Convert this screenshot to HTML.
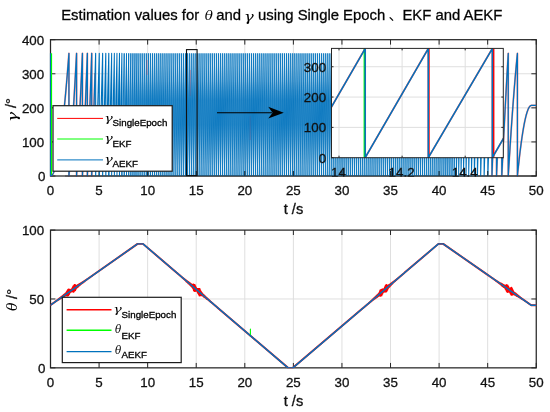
<!DOCTYPE html>
<html><head><meta charset="utf-8"><title>Estimation values</title>
<style>html,body{margin:0;padding:0;background:#fff}svg{display:block}</style></head>
<body>
<svg width="550" height="412" viewBox="0 0 550 412">
<rect width="550" height="412" fill="#fff"/>
<defs>
<clipPath id="ct"><rect x="49.5" y="39.7" width="487.25" height="136.8"/></clipPath>
<clipPath id="cb"><rect x="50.5" y="230.1" width="485.75" height="138.25"/></clipPath>
<clipPath id="ci"><rect x="331.5" y="48.4" width="171.8" height="109.3"/></clipPath>
<linearGradient id="mb" gradientUnits="userSpaceOnUse" x1="0" y1="54" x2="0" y2="176"><stop offset="0.098" stop-color="#0072bd" stop-opacity="0"/><stop offset="0.221" stop-color="#0072bd" stop-opacity="0.2"/><stop offset="0.311" stop-color="#0072bd" stop-opacity="0.48"/><stop offset="0.377" stop-color="#0072bd" stop-opacity="0.65"/><stop offset="0.582" stop-color="#0072bd" stop-opacity="0.65"/><stop offset="0.705" stop-color="#0072bd" stop-opacity="0.43"/><stop offset="0.787" stop-color="#0072bd" stop-opacity="0.25"/><stop offset="0.91" stop-color="#0072bd" stop-opacity="0"/></linearGradient>
<linearGradient id="mh" gradientUnits="userSpaceOnUse" x1="95.19" y1="0" x2="487.68" y2="0"><stop offset="0" stop-color="#fff" stop-opacity="0"/><stop offset="0.11" stop-color="#fff" stop-opacity="1"/><stop offset="0.89" stop-color="#fff" stop-opacity="1"/><stop offset="1" stop-color="#fff" stop-opacity="0"/></linearGradient>
<mask id="mm" maskUnits="userSpaceOnUse" x="0" y="0" width="550" height="412"><rect x="95.19" y="50" width="392.49" height="130" fill="url(#mh)"/></mask>
</defs>
<g font-size="14.87" fill="#000" font-family="Liberation Sans, sans-serif" stroke="#111" stroke-width="0.3">
<text x="61.2" y="20.1">Estimation values for</text>
<text x="216.3" y="20.1">and</text>
<text x="258.0" y="20.1">using Single Epoch</text>
<text x="402.4" y="20.1">EKF and AEKF</text>
</g>
<text x="388.4" y="20.1" font-size="14.67" fill="#000" font-family="Liberation Sans, 'Noto Sans CJK SC', sans-serif">、</text>
<text x="204.66" y="20.4" font-size="13.6" fill="#000" font-family="DejaVu Serif, Liberation Serif, serif" font-style="italic" >θ</text>
<text transform="translate(244.06,21.05) scale(1.24,1)" font-size="13.2" fill="#000" font-family="DejaVu Serif, Liberation Serif, serif" font-style="italic" >γ</text>
<path d="M99.08 39.7V176M147.65 39.7V176M196.22 39.7V176M244.8 39.7V176M293.38 39.7V176M341.95 39.7V176M390.52 39.7V176M439.1 39.7V176M487.68 39.7V176M50.5 141.93H108.79M502.25 141.93H536.25M50.5 107.85H108.79M502.25 107.85H536.25M50.5 73.78H108.79M502.25 73.78H536.25" stroke="#dfdfdf" stroke-width="1" fill="none"/>
<rect x="50.5" y="39.7" width="485.75" height="136.3" fill="none" stroke="#262626" stroke-width="1.25"/><path d="M50.5 176v-4.9M50.5 39.7v4.9M99.08 176v-4.9M99.08 39.7v4.9M147.65 176v-4.9M147.65 39.7v4.9M196.22 176v-4.9M196.22 39.7v4.9M244.8 176v-4.9M244.8 39.7v4.9M293.38 176v-4.9M293.38 39.7v4.9M341.95 176v-4.9M341.95 39.7v4.9M390.52 176v-4.9M390.52 39.7v4.9M439.1 176v-4.9M439.1 39.7v4.9M487.68 176v-4.9M487.68 39.7v4.9M536.25 176v-4.9M536.25 39.7v4.9M50.5 176h4.9M536.25 176h-4.9M50.5 141.93h4.9M536.25 141.93h-4.9M50.5 107.85h4.9M536.25 107.85h-4.9M50.5 73.78h4.9M536.25 73.78h-4.9M50.5 39.7h4.9M536.25 39.7h-4.9" stroke="#262626" stroke-width="1" fill="none"/>
<g clip-path="url(#ct)" fill="none" stroke-linejoin="round">
<path d="M51.5 53.33V176" stroke="#00ff00" stroke-width="1.2"/>
<polyline points="50.5,176 50.79,175.97 51.09,175.88 51.38,175.72 51.67,175.51 51.96,175.23 52.26,174.89 52.55,174.49 52.84,174.02 53.13,173.5 53.43,172.91 53.72,172.26 54.01,171.55 54.3,170.78 54.6,169.94 54.89,169.05 55.18,168.09 55.47,167.07 55.77,165.99 56.06,164.84 56.35,163.64 56.64,162.37 56.94,161.04 57.23,159.65 57.52,158.2 57.81,156.68 58.11,155.11 58.4,153.47 58.69,151.77 58.98,150.01 59.28,148.18 59.57,146.3 59.86,144.35 60.16,142.34 60.45,140.27 60.74,138.14 61.03,135.94 61.33,133.69 61.62,131.37 61.91,128.99 62.2,126.55 62.5,124.05 62.79,121.48 63.08,118.85 63.37,116.16 63.67,113.41 63.96,110.6 64.25,107.73 64.54,104.79 64.84,101.79 65.13,98.73 65.42,95.61 65.71,92.43 66.01,89.18 66.3,85.88 66.59,82.51 66.88,79.08 67.18,75.58 67.47,72.03 67.76,68.41 68.06,64.73 68.35,60.99 68.64,57.19 68.93,53.33 68.93,176 69.23,172.06 69.52,168.06 69.81,163.99 70.11,159.87 70.4,155.68 70.69,151.43 70.99,147.11 71.28,142.74 71.58,138.3 71.87,133.8 72.16,129.24 72.46,124.61 72.75,119.93 73.04,115.18 73.34,110.37 73.63,105.49 73.93,100.56 74.22,95.56 74.51,90.5 74.81,85.37 75.1,80.19 75.39,74.94 75.69,69.63 75.98,64.26 76.27,58.83 76.57,53.33 76.57,176 76.86,170.46 77.15,164.85 77.45,159.18 77.74,153.45 78.03,147.66 78.33,141.8 78.62,135.88 78.91,129.91 79.2,123.87 79.5,117.76 79.79,111.6 80.08,105.37 80.38,99.08 80.67,92.73 80.96,86.32 81.26,79.85 81.55,73.31 81.84,66.71 82.13,60.05 82.43,53.33 82.43,176 82.74,168.85 83.04,161.63 83.35,154.34 83.66,146.98 83.97,139.56 84.28,132.06 84.59,124.5 84.9,116.87 85.2,109.17 85.51,101.4 85.82,93.56 86.13,85.65 86.44,77.67 86.75,69.63 87.06,61.51 87.37,53.33 87.37,176 87.68,167.69 87.99,159.31 88.3,150.86 88.61,142.35 88.92,133.76 89.23,125.1 89.54,116.37 89.85,107.58 90.16,98.71 90.47,89.77 90.78,80.77 91.1,71.69 91.41,62.55 91.72,53.33 91.72,176 92.02,166.96 92.32,157.86 92.63,148.68 92.93,139.45 93.23,130.14 93.53,120.77 93.84,111.34 94.14,101.83 94.44,92.26 94.74,82.63 95.05,72.93" stroke="#ff0000" stroke-width="1.8" opacity="0.45"/>
<polyline points="490.5,95.75 490.8,87.14 491.09,78.6 491.38,70.11 491.67,61.69 491.97,53.33 491.97,176 492.27,167.35 492.58,158.77 492.88,150.26 493.19,141.81 493.49,133.43 493.8,125.12 494.1,116.87 494.41,108.7 494.71,100.58 495.02,92.54 495.32,84.56 495.63,76.66 495.93,68.81 496.24,61.04 496.54,53.33 496.54,176 496.83,168.66 497.13,161.38 497.42,154.16 497.71,147 498,139.91 498.3,132.88 498.59,125.91 498.88,119 499.18,112.16 499.47,105.37 499.76,98.65 500.06,91.99 500.35,85.39 500.64,78.85 500.93,72.38 501.23,65.97 501.52,59.62 501.81,53.33 501.81,176 502.11,169.77 502.4,163.61 502.69,157.51 502.99,151.46 503.28,145.49 503.57,139.57 503.86,133.71 504.16,127.92 504.45,122.19 504.74,116.52 505.04,110.91 505.33,105.37 505.62,99.89 505.92,94.47 506.21,89.11 506.5,83.81 506.79,78.58 507.09,73.4 507.38,68.29 507.67,63.24 507.97,58.26 508.26,53.33 508.26,176 508.55,171.1 508.85,166.26 509.15,161.48 509.44,156.77 509.74,152.12 510.03,147.53 510.33,143.01 510.62,138.55 510.92,134.15 511.21,129.82 511.51,125.54 511.8,121.33 512.1,117.19 512.39,113.11 512.69,109.09 512.98,105.13 513.28,101.23 513.58,97.4 513.87,93.63 514.17,89.93 514.46,86.29 514.76,82.71 515.05,79.19 515.35,75.74 515.64,72.35 515.94,69.02 516.23,65.76 516.53,62.56 516.82,59.42 517.12,56.34 517.42,53.33 517.42,176 517.71,173.06 518,170.18 518.3,167.37 518.59,164.62 518.89,161.93 519.18,159.3 519.48,156.74 519.77,154.24 520.06,151.8 520.36,149.42 520.65,147.11 520.95,144.86 521.24,142.67 521.54,140.55 521.83,138.48 522.12,136.48 522.42,134.54 522.71,132.67 523.01,130.85 523.3,129.1 523.6,127.41 523.89,125.79 524.18,124.23 524.48,122.73 524.77,121.29 525.07,119.91 525.36,118.6 525.66,117.35 525.95,116.16 526.24,115.03 526.54,113.97 526.83,112.97 527.13,112.03 527.42,111.16 527.72,110.35 528.01,109.6 528.3,108.91 528.6,108.28 528.89,107.72 529.19,107.22 529.48,106.78 529.78,106.41 530.07,106.1 530.36,105.85 530.66,105.66 530.95,105.53 531.25,105.47 531.54,105.46 531.84,105.46 532.13,105.46 532.42,105.46 532.72,105.46 533.01,105.46 533.31,105.46 533.6,105.46 533.9,105.46 534.19,105.46 534.48,105.46 534.78,105.46 535.07,105.46 535.37,105.46 535.66,105.46 535.96,105.46 536.25,105.46" stroke="#ff0000" stroke-width="1.8" opacity="0.45"/>
<polyline points="50.5,176 50.79,175.97 51.09,175.88 51.38,175.72 51.67,175.51 51.96,175.23 52.26,174.89 52.55,174.49 52.84,174.02 53.13,173.5 53.43,172.91 53.72,172.26 54.01,171.55 54.3,170.78 54.6,169.94 54.89,169.05 55.18,168.09 55.47,167.07 55.77,165.99 56.06,164.84 56.35,163.64 56.64,162.37 56.94,161.04 57.23,159.65 57.52,158.2 57.81,156.68 58.11,155.11 58.4,153.47 58.69,151.77 58.98,150.01 59.28,148.18 59.57,146.3 59.86,144.35 60.16,142.34 60.45,140.27 60.74,138.14 61.03,135.94 61.33,133.69 61.62,131.37 61.91,128.99 62.2,126.55 62.5,124.05 62.79,121.48 63.08,118.85 63.37,116.16 63.67,113.41 63.96,110.6 64.25,107.73 64.54,104.79 64.84,101.79 65.13,98.73 65.42,95.61 65.71,92.43 66.01,89.18 66.3,85.88 66.59,82.51 66.88,79.08 67.18,75.58 67.47,72.03 67.76,68.41 68.06,64.73 68.35,60.99 68.64,57.19 68.93,53.33 68.93,176 69.23,172.06 69.52,168.06 69.81,163.99 70.11,159.87 70.4,155.68 70.69,151.43 70.99,147.11 71.28,142.74 71.58,138.3 71.87,133.8 72.16,129.24 72.46,124.61 72.75,119.93 73.04,115.18 73.34,110.37 73.63,105.49 73.93,100.56 74.22,95.56 74.51,90.5 74.81,85.37 75.1,80.19 75.39,74.94 75.69,69.63 75.98,64.26 76.27,58.83 76.57,53.33 76.57,176 76.86,170.46 77.15,164.85 77.45,159.18 77.74,153.45 78.03,147.66 78.33,141.8 78.62,135.88 78.91,129.91 79.2,123.87 79.5,117.76 79.79,111.6 80.08,105.37 80.38,99.08 80.67,92.73 80.96,86.32 81.26,79.85 81.55,73.31 81.84,66.71 82.13,60.05 82.43,53.33 82.43,176 82.74,168.85 83.04,161.63 83.35,154.34 83.66,146.98 83.97,139.56 84.28,132.06 84.59,124.5 84.9,116.87 85.2,109.17 85.51,101.4 85.82,93.56 86.13,85.65 86.44,77.67 86.75,69.63 87.06,61.51 87.37,53.33 87.37,176 87.68,167.69 87.99,159.31 88.3,150.86 88.61,142.35 88.92,133.76 89.23,125.1 89.54,116.37 89.85,107.58 90.16,98.71 90.47,89.77 90.78,80.77 91.1,71.69 91.41,62.55 91.72,53.33 91.72,176 92.02,166.96 92.32,157.86 92.63,148.68 92.93,139.45 93.23,130.14 93.53,120.77 93.84,111.34 94.14,101.83 94.44,92.26 94.74,82.63 95.05,72.93" stroke="#0072bd" stroke-width="1.25"/>
<polyline points="95.05,72.93 95.35,63.16 95.65,53.33 95.65,176 95.95,166.14 96.25,156.21 96.56,146.22 96.86,136.16 97.16,126.04 97.46,115.85 97.76,105.59 98.06,95.27 98.36,84.88 98.67,74.43 98.97,63.91 99.27,53.33 99.27,176 99.58,165.19 99.88,154.31 100.19,143.36 100.49,132.34 100.8,121.26 101.11,110.1 101.41,98.88 101.72,87.6 102.02,76.24 102.33,64.82 102.64,53.33 102.64,176 102.95,164.06 103.27,152.04 103.58,139.96 103.9,127.8 104.22,115.57 104.53,103.26 104.85,90.89 105.17,78.44 105.48,65.92 105.8,53.33 105.8,176 106.1,164.02 106.4,151.98 106.7,139.88 107,127.71 107.29,115.47 107.59,103.17 107.89,90.81 108.19,78.38 108.49,65.89 108.79,53.33 108.79,176" stroke="#0072bd" stroke-width="1.12"/>
<polyline points="108.79,176 109.11,162.66 109.42,149.25 109.74,135.76 110.05,122.2 110.37,108.57 110.69,94.87 111,81.1 111.32,67.25 111.64,53.33 111.64,176 111.94,162.63 112.24,149.2 112.54,135.7 112.84,122.14 113.15,108.51 113.45,94.81 113.75,81.05 114.05,67.22 114.35,53.33 114.35,176 114.68,160.93 115.01,145.79 115.33,130.57 115.66,115.28 115.98,99.91 116.31,84.46 116.63,68.93 116.96,53.33 116.96,176 117.27,160.91 117.59,145.76 117.9,130.53 118.22,115.23 118.53,99.86 118.84,84.42 119.16,68.91 119.47,53.33 119.47,176 121.89,53.33 121.89,176" stroke="#0072bd" stroke-width="1.02"/>
<polyline points="121.89,176 124.23,53.33 124.23,176 126.5,53.33 126.5,176 128.7,53.33 128.7,176 130.85,53.33 130.85,176 132.93,53.33 132.93,176 134.97,53.33 134.97,176 136.96,53.33 136.96,176" stroke="#0072bd" stroke-width="0.9"/>
<polyline points="136.96,176 138.91,53.33 138.91,176 140.85,53.33 140.85,176 142.79,53.33 142.79,176 144.73,53.33 144.73,176 146.67,53.33 146.67,176 148.62,53.33 148.62,176 150.56,53.33 150.56,176 152.5,53.33 152.5,176 154.44,53.33 154.44,176 156.38,53.33 156.38,176 158.33,53.33 158.33,176 160.27,53.33 160.27,176 162.21,53.33 162.21,176 164.15,53.33 164.15,176 166.1,53.33 166.1,176 168.04,53.33 168.04,176 169.98,53.33 169.98,176 171.92,53.33 171.92,176 173.86,53.33 173.86,176 175.81,53.33 175.81,176 177.75,53.33 177.75,176 179.69,53.33 179.69,176 181.63,53.33 181.63,176 183.57,53.33 183.57,176 185.52,53.33 185.52,176 187.46,53.33 187.46,176 189.4,53.33 189.4,176 191.34,53.33 191.34,176 193.28,53.33 193.28,176 195.23,53.33 195.23,176 197.17,53.33 197.17,176 199.11,53.33 199.11,176 201.05,53.33 201.05,176 202.99,53.33 202.99,176 204.94,53.33 204.94,176 206.88,53.33 206.88,176 208.82,53.33 208.82,176 210.76,53.33 210.76,176 212.7,53.33 212.7,176 214.65,53.33 214.65,176 216.59,53.33 216.59,176 218.53,53.33 218.53,176 220.47,53.33 220.47,176 222.42,53.33 222.42,176 224.36,53.33 224.36,176 226.3,53.33 226.3,176 228.24,53.33 228.24,176 230.18,53.33 230.18,176 232.13,53.33 232.13,176 234.07,53.33 234.07,176 236.01,53.33 236.01,176 237.95,53.33 237.95,176 239.89,53.33 239.89,176 241.84,53.33 241.84,176 243.78,53.33 243.78,176 245.72,53.33 245.72,176 247.66,53.33 247.66,176 249.6,53.33 249.6,176 251.55,53.33 251.55,176 253.49,53.33 253.49,176 255.43,53.33 255.43,176 257.37,53.33 257.37,176 259.31,53.33 259.31,176 261.26,53.33 261.26,176 263.2,53.33 263.2,176 265.14,53.33 265.14,176 267.08,53.33 267.08,176 269.03,53.33 269.03,176 270.97,53.33 270.97,176 272.91,53.33 272.91,176 274.85,53.33 274.85,176 276.79,53.33 276.79,176 278.74,53.33 278.74,176 280.68,53.33 280.68,176 282.62,53.33 282.62,176 284.56,53.33 284.56,176 286.5,53.33 286.5,176 288.45,53.33 288.45,176 290.39,53.33 290.39,176 292.33,53.33 292.33,176 294.27,53.33 294.27,176 296.21,53.33 296.21,176 298.16,53.33 298.16,176 300.1,53.33 300.1,176 302.04,53.33 302.04,176 303.98,53.33 303.98,176 305.92,53.33 305.92,176 307.87,53.33 307.87,176 309.81,53.33 309.81,176 311.75,53.33 311.75,176 313.69,53.33 313.69,176 315.63,53.33 315.63,176 317.58,53.33 317.58,176 319.52,53.33 319.52,176 321.46,53.33 321.46,176 323.4,53.33 323.4,176 325.35,53.33 325.35,176 327.29,53.33 327.29,176 329.23,53.33 329.23,176 331.17,53.33 331.17,176 333.11,53.33 333.11,176 335.06,53.33 335.06,176 337,53.33 337,176 338.94,53.33 338.94,176 340.88,53.33 340.88,176 342.82,53.33 342.82,176 344.77,53.33 344.77,176 346.71,53.33 346.71,176 348.65,53.33 348.65,176 350.59,53.33 350.59,176 352.53,53.33 352.53,176 354.48,53.33 354.48,176 356.42,53.33 356.42,176 358.36,53.33 358.36,176 360.3,53.33 360.3,176 362.24,53.33 362.24,176 364.19,53.33 364.19,176 366.13,53.33 366.13,176 368.07,53.33 368.07,176 370.01,53.33 370.01,176 371.96,53.33 371.96,176 373.9,53.33 373.9,176 375.84,53.33 375.84,176 377.78,53.33 377.78,176 379.72,53.33 379.72,176 381.67,53.33 381.67,176 383.61,53.33 383.61,176 385.55,53.33 385.55,176 387.49,53.33 387.49,176 389.43,53.33 389.43,176 391.38,53.33 391.38,176 393.32,53.33 393.32,176 395.26,53.33 395.26,176 397.2,53.33 397.2,176 399.14,53.33 399.14,176 401.09,53.33 401.09,176 403.03,53.33 403.03,176 404.97,53.33 404.97,176 406.91,53.33 406.91,176 408.85,53.33 408.85,176 410.8,53.33 410.8,176 412.74,53.33 412.74,176 414.68,53.33 414.68,176 416.62,53.33 416.62,176 418.56,53.33 418.56,176 420.51,53.33 420.51,176 422.45,53.33 422.45,176 424.39,53.33 424.39,176 426.33,53.33 426.33,176 428.28,53.33 428.28,176 430.22,53.33 430.22,176 432.16,53.33 432.16,176 434.1,53.33 434.1,176 436.04,53.33 436.04,176 437.99,53.33 437.99,176 439.93,53.33 439.93,176 441.87,53.33 441.87,176 443.81,53.33 443.81,176" stroke="#0072bd" stroke-width="0.8"/>
<polyline points="443.81,176 445.77,53.33 445.77,176 447.78,53.33 447.78,176 449.84,53.33 449.84,176 451.95,53.33 451.95,176 454.12,53.33 454.12,176 456.35,53.33 456.35,176" stroke="#0072bd" stroke-width="0.9"/>
<polyline points="456.35,176 458.65,53.33 458.65,176 461.02,53.33 461.02,176 461.33,160.43 461.64,144.92 461.94,129.49 462.25,114.12 462.56,98.82 462.86,83.59 463.17,68.43 463.48,53.33 463.48,176 463.8,160.41 464.12,144.89 464.43,129.45 464.75,114.08 465.07,98.78 465.39,83.56 465.71,68.41 466.03,53.33 466.03,176 466.32,162.12 466.62,148.3 466.91,134.55 467.21,120.85 467.5,107.22 467.8,93.66 468.09,80.15 468.39,66.71 468.68,53.33 468.68,176 468.99,162.1 469.3,148.26 469.6,134.49 469.91,120.8 470.22,107.17 470.53,93.6 470.83,80.11 471.14,66.69 471.45,53.33 471.45,176 471.77,162.07 472.1,148.21 472.42,134.43 472.74,120.73 473.06,107.1" stroke="#0072bd" stroke-width="1.02"/>
<polyline points="473.06,107.1 473.39,93.54 473.71,80.06 474.03,66.66 474.35,53.33 474.35,176 474.66,163.43 474.97,150.92 475.27,138.49 475.58,126.12 475.88,113.82 476.19,101.59 476.5,89.42 476.8,77.32 477.11,65.29 477.42,53.33 477.42,176 477.71,164.53 478.01,153.13 478.3,141.79 478.6,130.51 478.89,119.3 479.19,108.15 479.48,97.06 479.78,86.03 480.07,75.07 480.37,64.17 480.66,53.33 480.66,176 480.98,164.49 481.29,153.05 481.61,141.68 481.92,130.39 482.24,119.16 482.55,108.01 482.87,96.93 483.18,85.92 483.5,74.99 483.81,64.12 484.13,53.33 484.13,176 484.44,165.39 484.75,154.85 485.06,144.38 485.37,133.99 485.69,123.66 486,113.4 486.31,103.21 486.62,93.1 486.93,83.05 487.25,73.07 487.56,63.17 487.87,53.33 487.87,176 488.16,166.84 488.45,157.73 488.75,148.69 489.04,139.72 489.33,130.8 489.63,121.94 489.92,113.15 490.21,104.42 490.5,95.75" stroke="#0072bd" stroke-width="1.12"/>
<polyline points="490.5,95.75 490.8,87.14 491.09,78.6 491.38,70.11 491.67,61.69 491.97,53.33 491.97,176 492.27,167.35 492.58,158.77 492.88,150.26 493.19,141.81 493.49,133.43 493.8,125.12 494.1,116.87 494.41,108.7 494.71,100.58 495.02,92.54 495.32,84.56 495.63,76.66 495.93,68.81 496.24,61.04 496.54,53.33 496.54,176 496.83,168.66 497.13,161.38 497.42,154.16 497.71,147 498,139.91 498.3,132.88 498.59,125.91 498.88,119 499.18,112.16 499.47,105.37 499.76,98.65 500.06,91.99 500.35,85.39 500.64,78.85 500.93,72.38 501.23,65.97 501.52,59.62 501.81,53.33 501.81,176 502.11,169.77 502.4,163.61 502.69,157.51 502.99,151.46 503.28,145.49 503.57,139.57 503.86,133.71 504.16,127.92 504.45,122.19 504.74,116.52 505.04,110.91 505.33,105.37 505.62,99.89 505.92,94.47 506.21,89.11 506.5,83.81 506.79,78.58 507.09,73.4 507.38,68.29 507.67,63.24 507.97,58.26 508.26,53.33 508.26,176 508.55,171.1 508.85,166.26 509.15,161.48 509.44,156.77 509.74,152.12 510.03,147.53 510.33,143.01 510.62,138.55 510.92,134.15 511.21,129.82 511.51,125.54 511.8,121.33 512.1,117.19 512.39,113.11 512.69,109.09 512.98,105.13 513.28,101.23 513.58,97.4 513.87,93.63 514.17,89.93 514.46,86.29 514.76,82.71 515.05,79.19 515.35,75.74 515.64,72.35 515.94,69.02 516.23,65.76 516.53,62.56 516.82,59.42 517.12,56.34 517.42,53.33 517.42,176 517.71,173.06 518,170.18 518.3,167.37 518.59,164.62 518.89,161.93 519.18,159.3 519.48,156.74 519.77,154.24 520.06,151.8 520.36,149.42 520.65,147.11 520.95,144.86 521.24,142.67 521.54,140.55 521.83,138.48 522.12,136.48 522.42,134.54 522.71,132.67 523.01,130.85 523.3,129.1 523.6,127.41 523.89,125.79 524.18,124.23 524.48,122.73 524.77,121.29 525.07,119.91 525.36,118.6 525.66,117.35 525.95,116.16 526.24,115.03 526.54,113.97 526.83,112.97 527.13,112.03 527.42,111.16 527.72,110.35 528.01,109.6 528.3,108.91 528.6,108.28 528.89,107.72 529.19,107.22 529.48,106.78 529.78,106.41 530.07,106.1 530.36,105.85 530.66,105.66 530.95,105.53 531.25,105.47 531.54,105.46 531.84,105.46 532.13,105.46 532.42,105.46 532.72,105.46 533.01,105.46 533.31,105.46 533.6,105.46 533.9,105.46 534.19,105.46 534.48,105.46 534.78,105.46 535.07,105.46 535.37,105.46 535.66,105.46 535.96,105.46 536.25,105.46" stroke="#0072bd" stroke-width="1.25"/>
<path d="M250.2 116V140M190.3 70V96M333.5 120V136M147 60V75M131 112V150" stroke="#e8384a" stroke-width="0.6" opacity="0.7"/>
<rect x="95.19" y="54" width="392.49" height="122" fill="url(#mb)" mask="url(#mm)"/>
<path d="M50.4 53.33V176" stroke="#0072bd" stroke-width="1.1"/>
</g>
<path d="M65.07 176H536.25M147.65 176v-4.9M196.22 176v-4.9M244.8 176v-4.9M293.38 176v-4.9M341.95 176v-4.9M390.52 176v-4.9M439.1 176v-4.9M487.68 176v-4.9" stroke="#262626" stroke-width="1.2" fill="none" opacity="0.65"/>
<g font-size="13.33" fill="#111" font-family="Liberation Sans, Arial, Helvetica, sans-serif" stroke="#111" stroke-width="0.3"><text x="50.5" y="195.3" text-anchor="middle">0</text><text x="99.08" y="195.3" text-anchor="middle">5</text><text x="147.65" y="195.3" text-anchor="middle">10</text><text x="196.22" y="195.3" text-anchor="middle">15</text><text x="244.8" y="195.3" text-anchor="middle">20</text><text x="293.38" y="195.3" text-anchor="middle">25</text><text x="341.95" y="195.3" text-anchor="middle">30</text><text x="390.52" y="195.3" text-anchor="middle">35</text><text x="439.1" y="195.3" text-anchor="middle">40</text><text x="487.68" y="195.3" text-anchor="middle">45</text><text x="536.25" y="195.3" text-anchor="middle">50</text><text x="45.4" y="181.3" text-anchor="end">0</text><text x="44.2" y="146.73" text-anchor="end">100</text><text x="44.2" y="112.65" text-anchor="end">200</text><text x="44.2" y="78.58" text-anchor="end">300</text><text x="44.2" y="44.5" text-anchor="end">400</text></g>
<text x="293.5" y="214.4" font-size="14.67" fill="#111" text-anchor="middle" font-family="Liberation Sans, Arial, Helvetica, sans-serif" stroke="#111" stroke-width="0.3">t /s</text>
<g transform="translate(17.05,120.4) rotate(-90)"><text transform="translate(-1.71,0) scale(1.24,1)" font-size="13.75" fill="#000" font-family="DejaVu Serif, Liberation Serif, serif" font-style="italic" >γ</text><text x="12.4" y="-0.8" font-size="14.67" fill="#111" font-family="Liberation Sans, Arial, Helvetica, sans-serif" stroke="#111" stroke-width="0.3">/°</text></g>
<rect x="186.5" y="49.6" width="10.6" height="126" fill="none" stroke="#111" stroke-width="1.1"/>
<path d="M217 112.7H272" stroke="#000" stroke-width="1.1" fill="none"/>
<path d="M283.8 112.7L268.2 106.8L272.6 112.7L268.2 118.6Z" fill="#000"/>
<rect x="331.5" y="48.4" width="171.8" height="109.3" fill="#fff"/>
<path d="M339 48.4V157.7M402.1 48.4V157.7M465.2 48.4V157.7M331.5 127.38H503.3M331.5 97.06H503.3M331.5 66.74H503.3" stroke="#dfdfdf" stroke-width="1" fill="none"/>
<g clip-path="url(#ci)" fill="none" stroke-linejoin="round">
<polyline points="302.09,157.7 365.19,48.55 365.19,157.7 428.29,48.55 428.29,157.7 492.33,48.55 492.33,157.7 555.43,48.55" stroke="#ff0000" stroke-width="1.7" opacity="0.6"/>
<path d="M364.29 48.55V157.7" stroke="#00ff00" stroke-width="1.4"/>
<path d="M493.43 48.55V157.7" stroke="#ff0000" stroke-width="2"/>
<path d="M429.09 48.55V157.7" stroke="#ff0000" stroke-width="1.2"/>
<polyline points="302.09,157.7 365.19,48.55 365.19,157.7 428.29,48.55 428.29,157.7 492.33,48.55 492.33,157.7 555.43,48.55" stroke="#0072bd" stroke-width="1.5"/>
</g>
<rect x="331.5" y="48.4" width="171.8" height="109.3" fill="none" stroke="#262626" stroke-width="1"/>
<path d="M339 157.7v-2M339 48.4v2M402.1 157.7v-2M402.1 48.4v2M465.2 157.7v-2M465.2 48.4v2M331.5 157.7h2M503.3 157.7h-2M331.5 127.38h2M503.3 127.38h-2M331.5 97.06h2M503.3 97.06h-2M331.5 66.74h2M503.3 66.74h-2" stroke="#262626" stroke-width="1" fill="none"/>
<g font-size="13.33" fill="#111" font-family="Liberation Sans, Arial, Helvetica, sans-serif" stroke="#111" stroke-width="0.3" clip-path="url(#ct)"><text x="338.5" y="176.7" text-anchor="middle">14</text><text x="401.6" y="176.7" text-anchor="middle">14.2</text><text x="464.7" y="176.7" text-anchor="middle">14.4</text><text x="326.1" y="162.5" text-anchor="end">0</text><text x="326.1" y="132.18" text-anchor="end">100</text><text x="326.1" y="101.86" text-anchor="end">200</text><text x="326.1" y="71.54" text-anchor="end">300</text></g>
<rect x="53" y="105.7" width="119.2" height="65.5" fill="#fff" stroke="#1c1c1c" stroke-width="1.2"/><path d="M57.2 118.4H103" stroke="#ff0000" stroke-width="1"/><text transform="translate(104.27,121.5) scale(1.24,1)" font-size="11.5" fill="#000" font-family="DejaVu Serif, Liberation Serif, serif" font-style="italic" >γ</text><text x="112.6" y="126.4" font-size="9.75" fill="#000" font-family="Liberation Sans, Arial, Helvetica, sans-serif" stroke="#000" stroke-width="0.3">SingleEpoch</text><path d="M57.2 139H103" stroke="#00ff00" stroke-width="1"/><text transform="translate(104.27,142.3) scale(1.24,1)" font-size="11.5" fill="#000" font-family="DejaVu Serif, Liberation Serif, serif" font-style="italic" >γ</text><text x="112.6" y="147.4" font-size="9.75" fill="#000" font-family="Liberation Sans, Arial, Helvetica, sans-serif" stroke="#000" stroke-width="0.3">EKF</text><path d="M57.2 159.9H103" stroke="#0072bd" stroke-width="1"/><text transform="translate(104.27,162.5) scale(1.24,1)" font-size="11.5" fill="#000" font-family="DejaVu Serif, Liberation Serif, serif" font-style="italic" >γ</text><text x="112.6" y="167.1" font-size="9.75" fill="#000" font-family="Liberation Sans, Arial, Helvetica, sans-serif" stroke="#000" stroke-width="0.3">AEKF</text>
<path d="M99.08 230.1V367.85M147.65 230.1V367.85M196.22 230.1V367.85M244.8 230.1V367.85M293.38 230.1V367.85M341.95 230.1V367.85M390.52 230.1V367.85M439.1 230.1V367.85M487.68 230.1V367.85M50.5 298.98H536.25" stroke="#dfdfdf" stroke-width="1" fill="none"/>
<rect x="50.5" y="230.1" width="485.75" height="137.75" fill="none" stroke="#262626" stroke-width="1.25"/><path d="M50.5 367.85v-4.9M50.5 230.1v4.9M99.08 367.85v-4.9M99.08 230.1v4.9M147.65 367.85v-4.9M147.65 230.1v4.9M196.22 367.85v-4.9M196.22 230.1v4.9M244.8 367.85v-4.9M244.8 230.1v4.9M293.38 367.85v-4.9M293.38 230.1v4.9M341.95 367.85v-4.9M341.95 230.1v4.9M390.52 367.85v-4.9M390.52 230.1v4.9M439.1 367.85v-4.9M439.1 230.1v4.9M487.68 367.85v-4.9M487.68 230.1v4.9M536.25 367.85v-4.9M536.25 230.1v4.9M50.5 367.85h4.9M536.25 367.85h-4.9M50.5 298.98h4.9M536.25 298.98h-4.9M50.5 230.1h4.9M536.25 230.1h-4.9" stroke="#262626" stroke-width="1" fill="none"/>
<g clip-path="url(#cb)" fill="none" stroke-linejoin="round" stroke-linecap="round">
<polyline points="50.5,305.04 50.6,304.97 50.81,304.82 51.02,304.67 51.24,304.52 51.45,304.37 51.66,304.22 51.88,304.07 52.09,303.92 52.31,303.77 52.52,303.62 52.73,303.47 52.95,303.32 53.16,303.17 53.37,303.02 53.59,302.87 53.8,302.72 54.02,302.57 54.23,302.42 54.44,302.27 54.66,302.12 54.87,301.96 55.08,301.81 55.3,301.66 55.51,301.51 55.73,301.39 55.74,301.31 55.94,301.26 55.95,301.15 56.15,301.12 56.17,301 56.37,300.98 56.38,300.85 56.58,300.83 56.6,300.69 56.79,300.7 56.81,300.52 57.01,300.52 57.02,300.39 57.22,300.38 57.24,300.2 57.44,300.25 57.45,300.06 57.65,300.1 57.66,299.9 57.86,299.96 57.88,299.75 58.08,299.84 58.09,299.58 58.29,299.72 58.31,299.41 58.5,299.58 58.52,299.23 58.72,299.45 58.73,299.08 58.93,299.25 58.95,298.9 59.15,299.18 59.16,298.73 59.36,299.01 59.37,298.58 59.57,298.84 59.59,298.4 59.79,298.75 59.8,298.3 60,298.55 60.02,298.06 60.21,298.54 60.23,297.99 60.43,298.38 60.44,297.78 60.64,298.16 60.66,297.63 60.86,298.12 60.87,297.37 61.07,297.87 61.08,297.24 61.28,297.74 61.3,297.05 61.5,297.66 61.51,296.84 61.71,297.66 61.73,296.74 61.92,297.55 61.94,296.61 62.14,297.22 62.15,296.37 62.35,297.07 62.37,296.29 62.57,297.04 62.58,296.02 62.78,296.84 62.79,295.99 62.99,296.91 63.01,295.75 63.21,296.82 63.22,295.4 63.42,296.52 63.44,295.36 63.63,296.44 63.65,295.12 63.85,296.34 63.86,294.97 64.06,296.23 64.08,294.67 64.27,296.06 64.29,294.67 64.49,296.01 64.5,294.57 64.7,295.73 64.72,294.12 64.92,295.69 64.93,294.11 65.13,295.36 65.15,293.99 65.34,295.45 65.36,293.98 65.56,295.34 65.57,293.56 65.77,294.97 65.79,293.39 65.98,295.01 66,293.2 66.2,294.83 66.21,293.02 66.41,295.04 66.43,293.03 66.63,294.71 66.64,292.27 66.84,295.44 66.86,292.19 67.05,295.14 67.07,291.51 67.27,295.09 67.28,291.35 67.48,295.12 67.5,291.01 67.69,295.45 67.71,290.79 67.91,295.15 67.92,289.95 68.12,294.61 68.14,290 68.34,295.35 68.35,290.19 68.55,294.49 68.57,289.5 68.76,294.24 68.78,290.22 68.98,294.15 68.99,289.68 69.19,293.47 69.21,290.13 69.4,293.32 69.42,289.76 69.62,293.02 69.63,289.89 69.83,292.47 69.85,290.33 70.05,292.37 70.06,290.12 70.26,292.01 70.27,290.38 70.47,291.7 70.49,290.12 70.69,291.57 70.7,289.87 70.9,291.67 70.92,290 71.11,291.27 71.13,289.61 71.33,291.27 71.34,289.45 71.54,291.02 71.56,289.56 71.76,290.86 71.77,289.11 71.97,290.72 71.98,289.14 72.18,290.65 72.2,288.93 72.4,290.71 72.41,288.28 72.61,290.62 72.63,288.46 72.82,291.32 72.84,287.4 73.04,291.53 73.05,287.36 73.25,291.65 73.27,286.45 73.47,290.92 73.48,286.24 73.68,291.7 73.69,286 73.89,291.27 73.91,286.21 74.11,290.95 74.12,286.09 74.32,290.42 74.34,285.46 74.53,290.51 74.55,285.1 74.75,289.93 74.76,284.99 74.96,290.39 74.98,285.05 75.18,290.2 75.19,285.2 75.39,289.46 75.4,286.16 75.6,289.17 75.62,286.08 75.82,288.44 75.83,285.83 76.03,288.19 76.05,286.07 76.24,288.02 76.26,286.01 76.46,287.59 76.47,286.03 76.67,287.65 76.69,285.8 76.88,287.44 76.9,285.72 77.1,287.03 77.11,285.51 77.31,287.11 77.33,285.53 77.53,286.92 77.54,285.11 77.74,286.75 77.76,285.02 77.95,286.29 77.97,284.97 78.17,286.42 78.18,285.05 78.38,286.04 78.4,284.84 78.59,285.95 78.61,284.66 78.81,285.76 78.82,284.43 79.02,285.44 79.04,284.52 79.24,285.31 79.25,284.37 79.45,285.12 79.47,284.01 79.66,285.16 79.68,284.12 79.88,284.89 79.89,283.93 80.09,284.67 80.11,283.8 80.3,284.58 80.32,283.62 80.52,284.34 80.53,283.58 80.73,284.16 80.75,283.46 80.95,284.03 80.96,283.21 81.16,283.83 81.18,283.2 81.37,283.63 81.39,283.02 81.59,283.53 81.6,282.82 81.8,283.32 81.82,282.69 82.01,283.19 82.03,282.62 82.23,282.98 82.24,282.48 82.44,282.86 82.46,282.35 82.66,282.69 82.67,282.21 82.87,282.47 82.88,282.07 83.08,282.35 83.1,281.98 83.3,282.16 83.31,281.81 83.51,282.04 83.53,281.63 83.72,281.83 83.74,281.5 83.94,281.7 83.95,281.41 84.15,281.52 84.17,281.28 84.37,281.38 84.38,281.11 84.58,281.22 84.59,280.96 84.79,281.05 84.81,280.82 85.01,280.88 85.02,280.71 85.22,280.72 85.24,280.57 85.43,280.55 85.45,280.4 85.65,280.39 85.66,280.28 85.86,280.24 85.88,280.11 86.08,280.09 86.09,279.99 86.29,279.95 86.3,279.84 86.5,279.79 86.52,279.68 86.73,279.58 86.95,279.43 87.16,279.28 87.37,279.13 87.59,278.98 87.8,278.83 88.01,278.68 88.23,278.53 88.44,278.38 88.66,278.23 88.87,278.08 89.08,277.93 89.3,277.78 89.51,277.63 89.72,277.48 89.94,277.33 90.15,277.18 90.37,277.03 90.58,276.88 90.79,276.73 91.01,276.57 91.22,276.42 91.43,276.27 91.65,276.12 91.86,275.97 92.08,275.82 92.29,275.67 92.5,275.52 137.55,243.88 142.99,243.88 175.84,271.96 176.06,272.14 176.27,272.32 176.48,272.51 176.7,272.69 176.91,272.87 177.12,273.05 177.34,273.24 177.55,273.42 177.77,273.6 177.98,273.78 178.19,273.97 178.41,274.15 178.62,274.33 178.83,274.52 179.05,274.7 179.26,274.88 179.48,275.06 179.69,275.25 179.9,275.43 180.12,275.61 180.33,275.79 180.54,275.98 180.76,276.16 180.84,276.23 180.97,276.34 181.06,276.41 181.19,276.52 181.27,276.6 181.4,276.71 181.48,276.78 181.61,276.89 181.7,276.96 181.83,277.04 181.91,277.18 182.04,277.21 182.12,277.38 182.25,277.4 182.34,277.57 182.47,277.57 182.55,277.75 182.68,277.74 182.76,277.95 182.9,277.91 182.98,278.13 183.11,278.09 183.19,278.33 183.32,278.25 183.41,278.5 183.54,278.43 183.62,278.72 183.75,278.62 183.83,278.88 183.96,278.81 184.05,279.1 184.18,278.95 184.26,279.3 184.39,279.11 184.47,279.45 184.6,279.33 184.69,279.65 184.82,279.5 184.9,279.88 185.03,279.62 185.12,280.09 185.25,279.84 185.33,280.29 185.46,280 185.54,280.44 185.67,280.13 185.76,280.6 185.89,280.36 185.97,280.89 186.1,280.51 186.18,281.03 186.31,280.64 186.4,281.27 186.53,280.88 186.61,281.43 186.74,280.98 186.83,281.65 186.96,281.18 187.04,281.87 187.17,281.22 187.25,282.04 187.38,281.45 187.47,282.19 187.6,281.66 187.68,282.5 187.81,281.86 187.89,282.76 188.02,281.85 188.11,282.79 188.24,282 188.32,283.06 188.45,282.19 188.54,283.36 188.67,282.47 188.75,283.55 188.88,282.53 188.96,283.79 189.09,282.8 189.18,283.99 189.31,282.76 189.39,284.18 189.52,283.04 189.6,284.21 189.73,283.21 189.82,284.49 189.95,283.29 190.03,284.81 190.16,283.5 190.25,284.85 190.38,283.63 190.46,285.21 190.59,283.95 190.67,285.51 190.8,283.94 190.89,285.43 191.02,283.99 191.1,285.64 191.23,284.39 191.31,286.07 191.44,284.44 191.53,286.21 191.66,284.58 191.74,286.37 191.87,284.89 191.96,286.45 192.09,285.16 192.17,286.88 192.3,285.01 192.38,287.1 192.51,284.95 192.6,287.41 192.73,285.18 192.81,287.85 192.94,284.64 193.02,287.98 193.15,284.86 193.24,288.56 193.37,284.51 193.45,289.07 193.58,284.96 193.67,289.51 193.8,284.72 193.88,290.32 194.01,285.02 194.09,290.71 194.22,285.48 194.31,290.15 194.44,285.69 194.52,290.09 194.65,285.04 194.73,290.98 194.86,286.12 194.95,290.33 195.08,286.19 195.16,290.95 195.29,286.18 195.37,290.87 195.51,286.86 195.59,290.25 195.72,287.47 195.8,290.25 195.93,287.81 196.02,290.45 196.15,288.41 196.23,290.23 196.36,288.49 196.44,290.24 196.57,288.68 196.66,290.77 196.79,288.82 196.87,290.73 197,289.16 197.08,291.02 197.21,289.29 197.3,291.41 197.43,289.28 197.51,291.49 197.64,289.09 197.73,292.02 197.86,289.17 197.94,292.66 198.07,289.61 198.15,293.17 198.28,288.93 198.37,293.34 198.5,289.02 198.58,293.7 198.71,289.41 198.79,294.15 198.92,289.68 199.01,294.42 199.14,288.97 199.22,294.58 199.35,289.24 199.44,295.45 199.57,289.05 199.65,294.46 199.78,289.49 199.86,295.13 199.99,290.75 200.08,294.81 200.21,290.91 200.29,294.49 200.42,291.01 200.5,295.25 200.63,291.63 200.72,295.07 200.85,291.79 200.93,294.47 201.06,292.16 201.15,294.7 201.28,292.58 201.36,294.74 201.49,292.9 201.57,294.75 201.7,293.08 201.79,295.16 201.92,293.26 202,295.12 202.13,293.51 202.21,295.3 202.34,293.97 202.43,295.29 202.56,294.18 202.64,295.51 202.77,294.35 202.86,295.79 202.99,294.36 203.07,295.96 203.2,294.66 203.28,296.16 203.41,294.91 203.5,296.25 203.63,294.97 203.71,296.39 203.84,295.36 203.92,296.7 204.05,295.4 204.14,296.7 204.27,295.71 204.35,296.9 204.48,295.86 204.57,296.98 204.7,296.22 204.78,297.14 204.91,296.23 204.99,297.28 205.12,296.51 205.21,297.46 205.34,296.78 205.42,297.61 205.55,296.94 205.63,297.77 205.76,297.22 205.85,297.93 205.98,297.39 206.06,298.16 206.19,297.61 206.28,298.24 206.41,297.75 206.49,298.47 206.62,297.91 206.7,298.58 206.83,298.16 206.92,298.8 207.05,298.41 207.13,299.04 207.26,298.59 207.34,299.09 207.47,298.75 207.56,299.26 207.69,298.93 207.77,299.45 207.9,299.19 207.99,299.59 208.12,299.32 208.2,299.78 208.33,299.52 208.41,299.97 208.54,299.7 208.63,300.13 208.76,299.96 208.84,300.29 208.97,300.11 209.05,300.49 209.18,300.34 209.27,300.63 209.4,300.51 209.48,300.85 209.61,300.71 209.69,300.97 209.83,300.93 209.91,301.15 210.04,301.11 210.12,301.33 210.25,301.3 210.34,301.53 210.47,301.46 210.55,301.69 210.68,301.65 210.76,301.87 210.89,301.85 210.98,302.06 211.11,302.03 211.19,302.21 211.32,302.24 211.4,302.41 211.53,302.41 211.62,302.57 211.75,302.61 211.83,302.72 211.96,302.83 212.05,302.9 212.18,303.01 212.26,303.08 212.39,303.2 212.47,303.27 212.6,303.38 212.69,303.45 212.9,303.63 213.11,303.82 213.33,304 213.54,304.18 213.76,304.36 213.97,304.55 214.18,304.73 214.4,304.91 214.61,305.09 214.82,305.28 215.04,305.46 215.25,305.64 215.47,305.83 215.68,306.01 215.89,306.19 216.11,306.37 216.32,306.56 216.53,306.74 216.75,306.92 216.96,307.1 217.18,307.29 217.39,307.47 217.6,307.65 288.03,367.85 292.89,367.85 362.74,308.34 362.95,308.16 363.17,307.98 363.38,307.8 363.6,307.62 363.81,307.43 364.02,307.25 364.24,307.07 364.45,306.89 364.66,306.71 364.88,306.52 365.09,306.34 365.31,306.16 365.52,305.98 365.73,305.8 365.95,305.61 366.16,305.43 366.37,305.25 366.59,305.07 366.8,304.89 367.02,304.7 367.23,304.52 367.44,304.34 367.64,304.17 367.66,304.16 367.86,303.99 367.87,303.97 368.07,303.81 368.08,303.79 368.28,303.62 368.3,303.61 368.5,303.44 368.51,303.43 368.71,303.26 368.73,303.28 368.92,303.04 368.94,303.12 369.14,302.85 369.15,302.94 369.35,302.67 369.37,302.75 369.56,302.48 369.58,302.59 369.78,302.28 369.79,302.41 369.99,302.08 370.01,302.24 370.21,301.91 370.22,302.06 370.42,301.72 370.44,301.86 370.63,301.51 370.65,301.71 370.85,301.31 370.86,301.52 371.06,301.14 371.08,301.36 371.27,300.93 371.29,301.16 371.49,300.76 371.5,301.02 371.7,300.59 371.72,300.85 371.92,300.34 371.93,300.68 372.13,300.15 372.15,300.52 372.34,300 372.36,300.33 372.56,299.72 372.57,300.16 372.77,299.58 372.79,299.97 372.98,299.41 373,299.81 373.2,299.12 373.21,299.71 373.41,298.92 373.43,299.59 373.63,298.76 373.64,299.42 373.84,298.57 373.86,299.18 374.05,298.29 374.07,299.1 374.27,298.08 374.28,298.87 374.48,297.91 374.5,298.7 374.69,297.66 374.71,298.64 374.91,297.6 374.92,298.49 375.12,297.42 375.14,298.15 375.34,297.09 375.35,298.03 375.55,296.93 375.56,297.96 375.76,296.85 375.78,297.83 375.98,296.58 375.99,297.59 376.19,296.36 376.21,297.52 376.4,296.03 376.42,297.23 376.62,296.02 376.63,297.07 376.83,295.72 376.85,296.84 377.05,295.6 377.06,296.91 377.26,295.21 377.27,296.83 377.47,294.9 377.49,296.64 377.69,294.91 377.7,296.22 377.9,294.73 377.92,296.17 378.11,294.45 378.13,296.04 378.33,294.31 378.34,296.01 378.54,294.14 378.56,295.69 378.76,293.69 378.77,295.67 378.97,293.74 378.98,295.26 379.18,293.32 379.2,295 379.4,293.25 379.41,295.28 379.61,292.6 379.63,295.1 379.82,292.54 379.84,295.17 380.04,291.49 380.05,295.45 380.25,290.8 380.27,295.86 380.47,290.34 380.48,295.04 380.68,290.94 380.69,294.97 380.89,290.32 380.91,295.31 381.11,290.59 381.12,295.46 381.32,290.36 381.34,294.96 381.53,290.03 381.55,295.35 381.75,289.75 381.76,294.33 381.96,290.18 381.98,294.18 382.17,289.57 382.19,294.03 382.39,289.39 382.4,293.69 382.6,290.05 382.62,292.69 382.82,289.75 382.83,292.72 383.03,289.98 383.05,292.28 383.24,289.97 383.26,291.65 383.46,289.97 383.47,291.34 383.67,289.6 383.69,291.52 383.88,289.29 383.9,291.17 384.1,289.18 384.11,291.24 384.31,288.67 384.33,291.15 384.53,288.48 384.54,291.17 384.74,288.24 384.76,290.98 384.95,287.36 384.97,291.79 385.17,287.05 385.18,291.28 385.38,286.88 385.4,291.36 385.59,285.96 385.61,291.35 385.81,285.43 385.82,290.88 386.02,286.05 386.04,291.25 386.24,285.74 386.25,291.49 386.45,285.09 386.47,291.32 386.66,285.33 386.68,289.85 386.88,285.4 386.89,290.11 387.09,285.54 387.11,289.42 387.3,285.41 387.32,289.58 387.52,285.99 387.53,288.89 387.73,285.84 387.75,288.33 387.95,285.61 387.96,288.14 388.16,285.75 388.17,287.42 388.37,285.46 388.39,287.22 388.59,285.53 388.6,287.3 388.8,285.39 388.82,286.86 389.01,284.97 389.03,286.93 389.23,285.07 389.24,286.51 389.44,284.92 389.46,286.21 389.66,284.77 389.67,286.32 389.87,284.67 389.88,285.84 390.08,284.46 390.1,285.59 390.3,284.19 390.31,285.61 390.51,283.93 390.53,285.36 390.72,283.79 390.74,284.96 390.94,283.79 390.95,285.04 391.15,283.69 391.17,284.63 391.37,283.42 391.38,284.43 391.58,283.25 391.59,284.17 391.79,283.17 391.81,284.19 392.01,283.03 392.02,283.96 392.22,282.86 392.24,283.77 392.43,282.59 392.45,283.49 392.65,282.54 392.66,283.16 392.86,282.26 392.88,282.99 393.08,282.2 393.09,282.9 393.29,281.92 393.3,282.57 393.5,281.75 393.52,282.44 393.72,281.68 393.73,282.18 393.93,281.52 393.95,282.1 394.14,281.36 394.16,281.79 394.36,281.21 394.37,281.59 394.57,281.02 394.59,281.48 394.79,280.88 394.8,281.21 395,280.63 395.01,281.09 395.21,280.46 395.23,280.82 395.43,280.35 395.44,280.69 395.64,280.17 395.66,280.47 395.85,280.01 395.87,280.23 396.07,279.84 396.08,280.08 396.28,279.64 396.3,279.88 396.49,279.49 396.51,279.68 396.71,279.31 396.72,279.49 396.92,279.12 396.94,279.29 397.14,278.96 397.15,279.13 397.35,278.78 397.37,278.91 397.56,278.6 397.58,278.74 397.78,278.45 397.79,278.54 397.99,278.27 398.01,278.34 398.2,278.07 398.22,278.17 398.42,277.9 398.43,277.97 398.63,277.77 398.65,277.76 398.85,277.59 398.86,277.57 399.06,277.41 399.08,277.39 399.27,277.22 399.29,277.21 399.49,277.04 399.5,277.03 399.7,276.86 399.91,276.68 400.13,276.49 400.34,276.31 400.56,276.13 400.77,275.95 400.98,275.77 401.2,275.58 401.41,275.4 401.62,275.22 401.84,275.04 402.05,274.86 402.27,274.67 402.48,274.49 402.69,274.31 402.91,274.13 403.12,273.95 403.33,273.76 403.55,273.58 403.76,273.4 403.98,273.22 404.19,273.04 404.4,272.85 438.42,243.88 443.18,243.88 488.74,275.61 488.96,275.76 489.17,275.9 489.38,276.05 489.6,276.2 489.81,276.35 490.02,276.5 490.24,276.65 490.45,276.8 490.67,276.95 490.88,277.1 491.09,277.24 491.31,277.39 491.52,277.54 491.73,277.69 491.95,277.84 492.16,277.99 492.38,278.14 492.59,278.29 492.8,278.44 493.02,278.58 493.04,278.6 493.23,278.73 493.26,278.75 493.44,278.88 493.47,278.9 493.66,279.03 493.68,279.05 493.87,279.18 493.9,279.2 494.08,279.33 494.11,279.35 494.3,279.48 494.32,279.49 494.51,279.63 494.54,279.64 494.73,279.81 494.75,279.75 494.94,279.98 494.97,279.9 495.15,280.13 495.18,280.03 495.37,280.29 495.39,280.17 495.58,280.43 495.61,280.32 495.79,280.57 495.82,280.46 496.01,280.74 496.03,280.61 496.22,280.91 496.25,280.76 496.44,281.04 496.46,280.88 496.65,281.22 496.67,281.05 496.86,281.35 496.89,281.18 497.08,281.5 497.1,281.29 497.29,281.67 497.32,281.46 497.5,281.84 497.53,281.58 497.72,282.01 497.74,281.71 497.93,282.19 497.96,281.86 498.15,282.3 498.17,281.95 498.36,282.52 498.38,282.17 498.57,282.66 498.6,282.23 498.79,282.89 498.81,282.44 499,282.94 499.03,282.53 499.21,283.15 499.24,282.6 499.43,283.38 499.45,282.81 499.64,283.49 499.67,282.9 499.86,283.73 499.88,283.09 500.07,283.82 500.09,283.24 500.28,284.03 500.31,283.38 500.5,284.26 500.52,283.42 500.71,284.36 500.74,283.64 500.92,284.46 500.95,283.68 501.14,284.77 501.16,283.79 501.35,284.82 501.38,283.81 501.57,285.08 501.59,284.04 501.78,285.14 501.8,284.23 501.99,285.5 502.02,284.4 502.21,285.57 502.23,284.39 502.42,285.69 502.45,284.46 502.63,286.04 502.66,284.56 502.85,286.16 502.87,284.89 503.06,286.11 503.09,284.94 503.28,286.36 503.3,285.15 503.49,286.74 503.51,285.27 503.7,286.9 503.73,285.13 503.92,286.8 503.94,285.26 504.13,287.08 504.16,285.66 504.34,287.16 504.37,285.86 504.56,287.45 504.58,285.85 504.77,287.77 504.8,285.79 504.99,287.6 505.01,286.11 505.2,287.97 505.22,286.27 505.41,288.26 505.44,286.16 505.63,288.96 505.65,286.02 505.84,288.91 505.87,286.02 506.05,289.61 506.08,285.58 506.27,289.79 506.29,285.31 506.48,290.1 506.51,285.24 506.7,290.94 506.72,285.86 506.91,291.43 506.93,285.6 507.12,291.34 507.15,285.41 507.34,291.61 507.36,285.8 507.55,290.87 507.58,285.56 507.76,291.97 507.79,286.27 507.98,291.54 508,286.89 508.19,291.78 508.22,286.81 508.4,290.96 508.43,287.12 508.62,291.5 508.64,287.98 508.83,291.32 508.86,288.28 509.05,290.69 509.07,288.56 509.26,290.71 509.29,288.93 509.47,291.01 509.5,289.3 509.69,291.37 509.71,288.82 509.9,291.75 509.93,288.88 510.11,292.49 510.14,288.83 510.33,292.6 510.35,288.57 510.54,293.39 510.57,288.88 510.76,292.91 510.78,288.13 510.97,293.82 510.99,288.69 511.18,294.59 511.21,287.9 511.4,294.32 511.42,287.83 511.61,294.89 511.64,288.33 511.82,294.19 511.85,289.6 512.04,294.73 512.06,288.9 512.25,294.26 512.28,289.59 512.47,294.43 512.49,290.23 512.68,294.43 512.7,290.31 512.89,294.01 512.92,291.12 513.11,294.02 513.13,291.34 513.32,294 513.35,291.81 513.53,293.74 513.56,292.14 513.75,293.85 513.77,292.14 513.96,293.85 513.99,292.53 514.18,294.14 514.2,292.63 514.39,294.28 514.41,292.81 514.6,294.25 514.63,292.83 514.82,294.7 514.84,292.88 515.03,294.67 515.06,293.23 515.24,294.63 515.27,293.44 515.46,294.85 515.48,293.38 515.67,294.91 515.7,293.56 515.89,295.15 515.91,293.9 516.1,295.21 516.12,293.91 516.31,295.31 516.34,294.21 516.53,295.53 516.55,294.49 516.74,295.58 516.77,294.45 516.95,295.85 516.98,294.69 517.17,296 517.19,295.03 517.38,296.08 517.41,295.04 517.6,296.09 517.62,295.28 517.81,296.38 517.83,295.48 518.02,296.46 518.05,295.68 518.24,296.56 518.26,295.83 518.45,296.66 518.48,295.98 518.66,296.85 518.69,296.09 518.88,296.91 518.9,296.27 519.09,297.03 519.12,296.42 519.31,297.14 519.33,296.63 519.52,297.31 519.54,296.82 519.73,297.38 519.76,297.01 519.95,297.58 519.97,297.17 520.16,297.72 520.19,297.3 520.37,297.87 520.4,297.43 520.59,297.98 520.61,297.64 520.8,298.06 520.83,297.79 521.01,298.25 521.04,297.92 521.23,298.35 521.25,298.14 521.44,298.54 521.47,298.26 521.66,298.65 521.68,298.42 521.87,298.77 521.9,298.59 522.08,298.93 522.11,298.74 522.3,299.05 522.32,298.92 522.51,299.21 522.54,299.05 522.72,299.33 522.75,299.24 522.94,299.48 522.96,299.37 523.15,299.63 523.18,299.53 523.37,299.79 523.39,299.68 523.58,299.91 523.6,299.83 523.79,300.05 523.82,300 524.01,300.17 524.03,300.19 524.22,300.32 524.25,300.33 524.43,300.47 524.46,300.48 524.65,300.61 524.67,300.63 524.86,300.76 524.89,300.78 525.08,300.91 525.1,300.93 525.29,301.06 525.31,301.08 525.5,301.21 525.53,301.23 525.74,301.38 525.96,301.53 526.17,301.67 526.38,301.82 526.6,301.97 526.81,302.12 527.02,302.27 527.24,302.42 527.45,302.57 527.67,302.72 527.88,302.86 528.09,303.01 528.31,303.16 528.52,303.31 528.73,303.46 528.95,303.61 529.16,303.76 529.38,303.91 529.59,304.06 529.8,304.2 531.39,305.31 536.25,305.31" stroke="#ff0000" stroke-width="1.95"/>
<path d="M250.4 329V336" stroke="#00ff00" stroke-width="1.1"/>
<polyline points="50.5,305.04 137.55,243.88 142.99,243.88 288.03,367.85 292.89,367.85 438.42,243.88 443.18,243.88 531.39,305.31 536.25,305.31" stroke="#0072bd" stroke-width="1.45"/>
</g>
<g font-size="13.33" fill="#111" font-family="Liberation Sans, Arial, Helvetica, sans-serif" stroke="#111" stroke-width="0.3"><text x="50.5" y="386.75" text-anchor="middle">0</text><text x="99.08" y="386.75" text-anchor="middle">5</text><text x="147.65" y="386.75" text-anchor="middle">10</text><text x="196.22" y="386.75" text-anchor="middle">15</text><text x="244.8" y="386.75" text-anchor="middle">20</text><text x="293.38" y="386.75" text-anchor="middle">25</text><text x="341.95" y="386.75" text-anchor="middle">30</text><text x="390.52" y="386.75" text-anchor="middle">35</text><text x="439.1" y="386.75" text-anchor="middle">40</text><text x="487.68" y="386.75" text-anchor="middle">45</text><text x="536.25" y="386.75" text-anchor="middle">50</text><text x="45.4" y="373.15" text-anchor="end">0</text><text x="44.2" y="303.78" text-anchor="end">50</text><text x="44.2" y="234.9" text-anchor="end">100</text></g>
<text x="293.5" y="406.0" font-size="14.67" fill="#111" text-anchor="middle" font-family="Liberation Sans, Arial, Helvetica, sans-serif" stroke="#111" stroke-width="0.3">t /s</text>
<g transform="translate(16.8,310.4) rotate(-90)"><text x="-0.56" y="0" font-size="14" fill="#000" font-family="DejaVu Serif, Liberation Serif, serif" font-style="italic" >θ</text><text x="11.5" y="0" font-size="14.67" fill="#111" font-family="Liberation Sans, Arial, Helvetica, sans-serif" stroke="#111" stroke-width="0.3">/°</text></g>
<rect x="62.3" y="297.3" width="118.9" height="65.3" fill="#fff" stroke="#1c1c1c" stroke-width="1.2"/><path d="M66.6 309.7H111.5" stroke="#ff0000" stroke-width="1.4"/><text transform="translate(113.37,312.6) scale(1.24,1)" font-size="11.5" fill="#000" font-family="DejaVu Serif, Liberation Serif, serif" font-style="italic" >γ</text><text x="121.6" y="317.6" font-size="9.75" fill="#000" font-family="Liberation Sans, Arial, Helvetica, sans-serif" stroke="#000" stroke-width="0.3">SingleEpoch</text><path d="M66.6 330.3H111.5" stroke="#00ff00" stroke-width="1.4"/><text x="114.88" y="333.4" font-size="10.4" fill="#000" font-family="DejaVu Serif, Liberation Serif, serif" font-style="italic" >θ</text><text x="121.6" y="338.7" font-size="9.75" fill="#000" font-family="Liberation Sans, Arial, Helvetica, sans-serif" stroke="#000" stroke-width="0.3">EKF</text><path d="M66.6 351.6H111.5" stroke="#0072bd" stroke-width="1.4"/><text x="114.88" y="354" font-size="10.4" fill="#000" font-family="DejaVu Serif, Liberation Serif, serif" font-style="italic" >θ</text><text x="121.6" y="358.2" font-size="9.75" fill="#000" font-family="Liberation Sans, Arial, Helvetica, sans-serif" stroke="#000" stroke-width="0.3">AEKF</text>
</svg>
</body></html>
